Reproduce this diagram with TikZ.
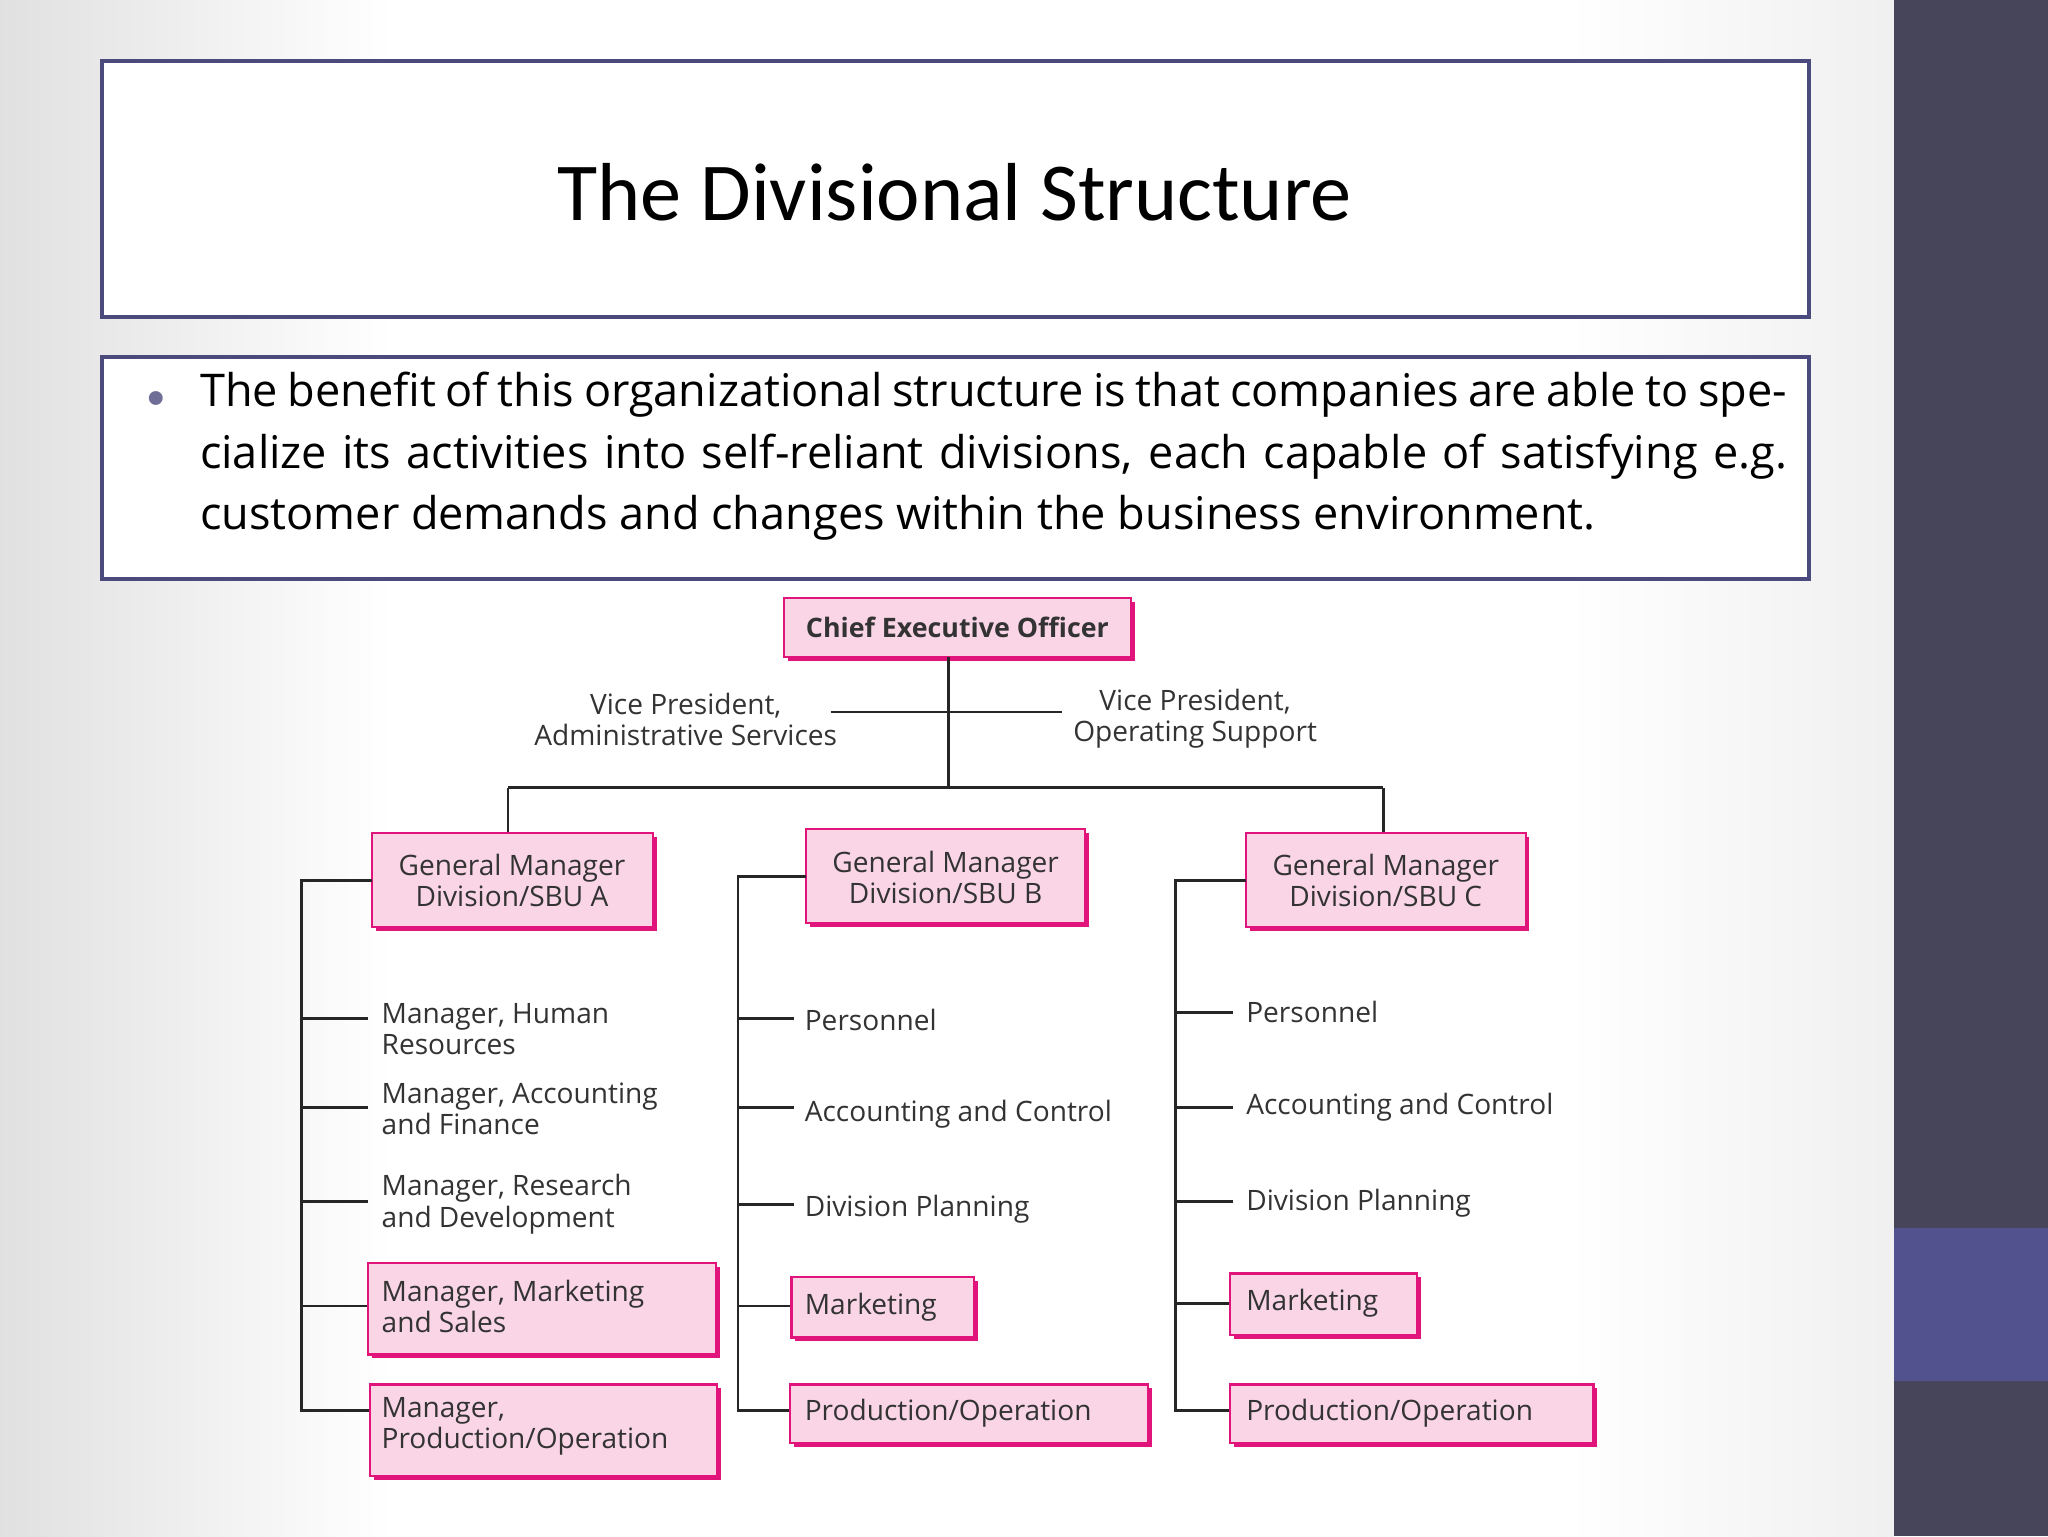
\documentclass[tikz,border=0pt]{standalone}
\usepackage{fontspec}
\setmainfont{Carlito}
\newfontfamily\chartfont{Open Sans}
\definecolor{frame}{HTML}{4B4A7C}
\definecolor{side}{HTML}{46455A}
\definecolor{sideblue}{HTML}{52528E}
\definecolor{pinkfill}{HTML}{F9D5E5}
\definecolor{mag}{HTML}{E0147A}
\definecolor{ink}{HTML}{333333}
\tikzset{
  lbl/.style={anchor=west,align=left,text=ink,font=\chartfont\fontsize{21.5}{24}\selectfont,inner sep=0pt},
  ln/.style={line width=2pt,draw=black!85},
}
\newcommand{\pinkbox}[5]{% name, x1,y1,x2,y2
  \fill[mag] (#2+3,#3+3) rectangle (#4+3,#5+3);
  \draw[draw=mag,line width=1.6pt,fill=pinkfill] (#2,#3) rectangle (#4,#5);
  \coordinate (#1) at (#2,{(#3+#5)/2});
}
\begin{document}
\begin{tikzpicture}[x=1pt,y=-1pt]
\useasboundingbox (0,0) rectangle (1568,1176);
\shade[left color=black!12,right color=white] (0,0) rectangle (300,1176);
\fill[white] (300,0) rectangle (1450,1176);
\shade[left color=white,right color=black!6] (1200,0) rectangle (1450,1176);
\fill[side] (1450,0) rectangle (1568,1176);
\fill[sideblue] (1450,940) rectangle (1568,1057);
% title
\draw[frame,line width=3pt,fill=white] (78,47) rectangle (1385,243);
\node[font=\fontsize{63}{70}\selectfont,text=black] (title) at (731,147) {The Divisional Structure};
% bullet
\draw[frame,line width=3pt,fill=white] (78,273) rectangle (1385,443);
\node[text=frame!80,font=\fontsize{30}{30}\selectfont] (bul) at (120,307) {•};
\node[anchor=north west,inner sep=0pt,text=black] (btext) at (153,285)
 {\parbox{1215pt}{\chartfont\fontsize{34.5}{47}\selectfont The benefit of this organizational structure is that companies are able to specialize its activities into self-reliant divisions, each capable of satisfying e.g.\ customer demands and changes within the business environment.}};
% CEO
\pinkbox{ceo}{600}{458}{866}{503}
\node[lbl,anchor=center,font=\chartfont\bfseries\fontsize{20.5}{24}\selectfont] (ceot) at (733,480) {Chief Executive Officer};
\coordinate (ceob) at (726,503);
\coordinate (bus) at (726,603);
\draw[ln] (ceob) -- (bus);
\node[lbl,anchor=center,align=center] (vpl) at (525,551) {Vice President,\\Administrative Services};
\node[lbl,anchor=center,align=center] (vpr) at (915,550) {Vice President,\\Operating Support};
\draw[ln] (636,545) coordinate (vpa) -- (813,545) coordinate (vpb);
\coordinate (ba) at (389,603); \coordinate (bc) at (1059,603);
\draw[ln] (ba) -- (bc);
\draw[ln] (ba) -- (389,638);
\draw[ln] (bc) -- (1059,638);
% GMs
\pinkbox{gma}{285}{638}{500}{710}
\node[lbl,anchor=center,align=center] (gmat) at (392,674) {General Manager\\Division/SBU A};
\pinkbox{gmb}{617}{635}{831}{707}
\node[lbl,anchor=center,align=center] (gmbt) at (724,672) {General Manager\\Division/SBU B};
\pinkbox{gmc}{954}{638}{1168}{710}
\node[lbl,anchor=center,align=center] (gmct) at (1061,674) {General Manager\\Division/SBU C};
% A column
\draw[ln] (gma) -| (231,1080) -- (283,1080);
\foreach \y in {780,848,920,1000} \draw[ln] (231,\y) -- (282,\y);
\node[lbl] (a1) at (292,788) {Manager, Human\\Resources};
\node[lbl] (a2) at (292,849) {Manager, Accounting\\and Finance};
\node[lbl] (a3) at (292,922) {Manager, Research\\and Development};
\pinkbox{a4b}{282}{967}{548}{1037}
\node[lbl] (a4) at (292,1000) {Manager, Marketing\\and Sales};
\pinkbox{a5b}{283}{1060}{549}{1130}
\node[lbl] (a5) at (292,1092) {Manager,\\Production/Operation};
% B column
\draw[ln] (gmb) -| (565,1080) -- (605,1080);
\foreach \y in {780,848,922,1000} \draw[ln] (565,\y) -- (608,\y);
\node[lbl] (b1) at (616,781) {Personnel};
\node[lbl] (b2) at (616,853) {Accounting and Control};
\node[lbl] (b3) at (616,926) {Division Planning};
\pinkbox{b4b}{606}{978}{746}{1024}
\node[lbl] (b4) at (616,1001) {Marketing};
\pinkbox{b5b}{605}{1060}{879}{1105}
\node[lbl] (b5) at (616,1082) {Production/Operation};
% C column
\draw[ln] (gmc) -| (900,1080) -- (942,1080);
\foreach \y in {775,848,920,998} \draw[ln] (900,\y) -- (944,\y);
\node[lbl] (c1) at (954,775) {Personnel};
\node[lbl] (c2) at (954,848) {Accounting and Control};
\node[lbl] (c3) at (954,921) {Division Planning};
\pinkbox{c4b}{942}{975}{1085}{1022}
\node[lbl] (c4) at (954,998) {Marketing};
\pinkbox{c5b}{942}{1060}{1220}{1105}
\node[lbl] (c5) at (954,1082) {Production/Operation};
\end{tikzpicture}
\end{document}
